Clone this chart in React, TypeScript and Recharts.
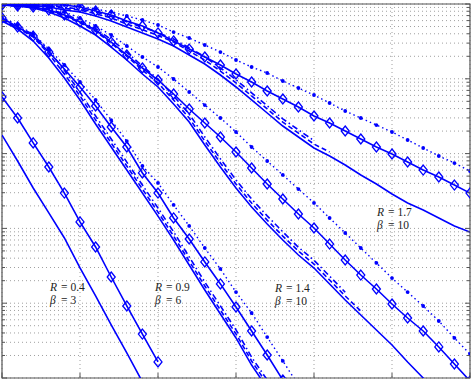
import { CartesianGrid, Line, LineChart, ReferenceArea, XAxis, YAxis } from "recharts";

const BLUE = "#0000ff";
const FRAME = "#555555";

// x positions (every 0.2 between 0 and 6)
const X_VALUES = [
  0, 0.2, 0.4, 0.6, 0.8, 1.0, 1.2, 1.4, 1.6, 1.8, 2.0, 2.2, 2.4, 2.6, 2.8, 3.0,
  3.2, 3.4, 3.6, 3.8, 4.0, 4.2, 4.4, 4.6, 4.8, 5.0, 5.2, 5.4, 5.6, 5.8, 6.0
];
const X_TICKS = [0, 1, 2, 3, 4, 5, 6];
const Y_DECADES = [1e-5, 1e-4, 1e-3, 1e-2, 1e-1];
const Y_MANTISSA = [1, 2, 3, 4, 5, 6, 7, 8, 9];

// R = 0.4, beta = 3
const A_DIAMOND = [5.71e-2, 2.99e-2, 1.39e-2, 6.62e-3, 2.97e-3, 1.22e-3, 5.64e-4, 2.24e-4, 9.18e-5, 3.87e-5, 1.64e-5];
const A_SOLID = [1.77e-2, 7.96e-3, 3.47e-3, 1.61e-3, 7.45e-4, 2.96e-4, 1.25e-4, 5.12e-5, 2.16e-5, 8.9e-6];

// R = 0.9, beta = 6
const B_DIAMOND = [0.65, 0.493, 0.373, 0.228, 0.135, 0.0776, 0.0433, 0.0227, 0.01225, 5.51e-3, 2.97e-3, 1.38e-3, 7.21e-4, 3.56e-4, 1.81e-4, 8.89e-5, 4.25e-5, 2.03e-5, 9.4e-6];
const B_DOTTED = [0.67, 0.524, 0.397, 0.25, 0.153, 0.0906, 0.0521, 0.0281, 0.0147, 6.83e-3, 4.05e-3, 2.06e-3, 1.08e-3, 5.47e-4, 2.87e-4, 1.41e-4, 7.4e-5, 3.53e-5, 1.69e-5, 8.06e-6];
const B_SOLID = [0.593, 0.463, 0.32, 0.19, 0.1025, 0.0521, 0.0249, 0.01225, 6.03e-3, 2.97e-3, 1.46e-3, 7.0e-4, 3.24e-4, 1.5e-4, 7.17e-5, 3.43e-5, 1.49e-5, 7.35e-6];
const B_DASHED = [0.605, 0.48, 0.362, 0.215, 0.116, 0.059, 0.0282, 0.01385, 6.82e-3, 3.36e-3, 1.65e-3, 7.9e-4, 3.66e-4, 1.7e-4, 8.1e-5, 3.88e-5, 1.69e-5, 8.3e-6];
const B_DASHDOT = [0.62, 0.5, 0.39, 0.24, 0.13, 0.066, 0.0318, 0.0157, 7.7e-3, 3.8e-3, 1.87e-3, 9.0e-4, 4.15e-4, 1.92e-4, 9.2e-5, 4.4e-5, 1.9e-5, 9.4e-6];

// R = 1.4, beta = 10
const C_DIAMOND = [0.97, 0.94, 0.912, 0.831, 0.713, 0.574, 0.449, 0.31, 0.208, 0.1394, 0.0964, 0.0626, 0.0395, 0.02565, 0.01667, 0.0105, 6.42e-3, 3.92e-3, 2.47e-3, 1.558e-3, 1.012e-3, 6.18e-4, 3.78e-4, 2.38e-4, 1.548e-4, 9.76e-5, 6.34e-5, 4.25e-5, 2.6e-5, 1.54e-5, 9.12e-6];
const C_DOTTED = [0.97, 0.94, 0.94, 0.884, 0.782, 0.65, 0.508, 0.385, 0.2745, 0.1956, 0.1438, 0.0994, 0.0666, 0.0446, 0.0299, 0.01944, 0.01225, 7.96e-3, 5.18e-3, 3.36e-3, 2.19e-3, 1.377e-3, 8.68e-4, 5.47e-4, 3.45e-4, 2.17e-4, 1.41e-4, 9.18e-5, 5.78e-5, 3.43e-5, 2.09e-5];
const C_SOLID = [0.97, 0.94, 0.884, 0.782, 0.65, 0.508, 0.385, 0.266, 0.1784, 0.1159, 0.0777, 0.046, 0.02645, 0.01303, 6.62e-3, 3.47e-3, 1.932e-3, 1.145e-3, 7.0e-4, 4.41e-4, 2.95e-4, 1.806e-4, 1.104e-4, 6.95e-5, 4.38e-5, 2.76e-5, 1.637e-5, 1.0e-5, 6.11e-6];
const C_DASHED = [0.97, 0.94, 0.9, 0.81, 0.69, 0.56, 0.43, 0.3, 0.2, 0.131, 0.088, 0.052, 0.0299, 0.0147, 7.5e-3, 3.92e-3, 2.18e-3, 1.29e-3, 7.9e-4, 4.98e-4, 3.33e-4, 2.04e-4, 1.25e-4, 7.85e-5];
const C_DASHDOT = [0.97, 0.95, 0.92, 0.85, 0.74, 0.6, 0.47, 0.335, 0.226, 0.148, 0.099, 0.059, 0.0338, 0.0167, 8.5e-3, 4.44e-3, 2.47e-3, 1.47e-3, 9.0e-4, 5.6e-4, 3.75e-4, 2.3e-4, 1.4e-4];

// R = 1.7, beta = 10
const D_DIAMOND = [0.99, 0.99, 0.97, 0.97, 0.97, 0.912, 0.806, 0.713, 0.593, 0.508, 0.41, 0.32, 0.25, 0.1956, 0.153, 0.1159, 0.0906, 0.0687, 0.0537, 0.042, 0.0318, 0.02565, 0.02005, 0.01567, 0.01225, 9.88e-3, 7.72e-3, 6.03e-3, 4.87e-3, 3.8e-3, 2.97e-3];
const D_DOTTED = [0.99, 0.99, 0.99, 0.97, 0.97, 0.94, 0.857, 0.782, 0.691, 0.611, 0.524, 0.422, 0.351, 0.283, 0.228, 0.1784, 0.1438, 0.1196, 0.0935, 0.0753, 0.0607, 0.0475, 0.0371, 0.0299, 0.0241, 0.01944, 0.0152, 0.01188, 9.29e-3, 7.48e-3, 5.85e-3];
const D_SOLID = [0.97, 0.97, 0.94, 0.912, 0.831, 0.782, 0.691, 0.593, 0.493, 0.41, 0.34, 0.2745, 0.208, 0.1578, 0.1124, 0.0777, 0.0521, 0.0349, 0.02339, 0.01667, 0.01188, 9.29e-3, 7.04e-3, 5.18e-3, 3.92e-3, 2.88e-3, 2.19e-3, 1.762e-3, 1.377e-3, 1.077e-3, 8.95e-4];
const D_DASHED = [0.98, 0.98, 0.96, 0.94, 0.87, 0.83, 0.74, 0.65, 0.54, 0.455, 0.38, 0.31, 0.235, 0.178, 0.127, 0.088, 0.059, 0.0395, 0.0264, 0.0188, 0.0134, 0.0105];
const D_DASHDOT = [0.98, 0.98, 0.97, 0.95, 0.9, 0.86, 0.78, 0.68, 0.58, 0.49, 0.415, 0.34, 0.26, 0.197, 0.14, 0.097, 0.065, 0.0436, 0.0292, 0.0208, 0.0149];

const SERIES: { key: string; values: number[]; style: "solid" | "dashed" | "dashdot" | "dotted" | "diamond" }[] = [
  { key: "aSolid", values: A_SOLID, style: "solid" },
  { key: "aDiamond", values: A_DIAMOND, style: "diamond" },
  { key: "bSolid", values: B_SOLID, style: "solid" },
  { key: "bDashed", values: B_DASHED, style: "dashed" },
  { key: "bDashdot", values: B_DASHDOT, style: "dashdot" },
  { key: "bDiamond", values: B_DIAMOND, style: "diamond" },
  { key: "bDotted", values: B_DOTTED, style: "dotted" },
  { key: "cSolid", values: C_SOLID, style: "solid" },
  { key: "cDashed", values: C_DASHED, style: "dashed" },
  { key: "cDashdot", values: C_DASHDOT, style: "dashdot" },
  { key: "cDiamond", values: C_DIAMOND, style: "diamond" },
  { key: "cDotted", values: C_DOTTED, style: "dotted" },
  { key: "dSolid", values: D_SOLID, style: "solid" },
  { key: "dDashed", values: D_DASHED, style: "dashed" },
  { key: "dDashdot", values: D_DASHDOT, style: "dashdot" },
  { key: "dDiamond", values: D_DIAMOND, style: "diamond" },
  { key: "dDotted", values: D_DOTTED, style: "dotted" }
];

const LABELS = [
  { x: 50, y: 291, r: "0.4", b: "3" },
  { x: 155, y: 291, r: "0.9", b: "6" },
  { x: 275, y: 292, r: "1.4", b: "10" },
  { x: 377, y: 216, r: "1.7", b: "10" }
];

const Y_TICKS = [...Y_DECADES.flatMap((d) => Y_MANTISSA.map((m) => m * d)), 1];

const rows = X_VALUES.map((x, i) => {
  const row: Record<string, number | undefined> = { x };
  SERIES.forEach((s) => {
    row[s.key] = s.values[i];
  });
  return row;
});

function isDecade(v: number) {
  const l = Math.log10(v);
  return Math.abs(l - Math.round(l)) < 1e-6;
}

function yTick(side: "left" | "right") {
  return (props: any) => {
    const { x, y, payload } = props;
    const len = isDecade(payload.value) ? 5 : 3;
    const dir = side === "left" ? 1 : -1;
    return <line x1={x} x2={x + dir * len} y1={y} y2={y} stroke={FRAME} strokeWidth={1} />;
  };
}

function xTick(side: "top" | "bottom") {
  return (props: any) => {
    const { x, y } = props;
    const dir = side === "top" ? 1 : -1;
    return <line x1={x} x2={x} y1={y} y2={y + dir * 5} stroke={FRAME} strokeWidth={1} />;
  };
}

function DiamondDot(props: any) {
  const { cx, cy, value } = props;
  if (value == null || !Number.isFinite(cx) || !Number.isFinite(cy)) return <g />;
  return (
    <path
      d={`M${cx},${cy - 5}L${cx + 4},${cy}L${cx},${cy + 5}L${cx - 4},${cy}Z`}
      fill="none"
      stroke={BLUE}
      strokeWidth={1.3}
    />
  );
}

function PointDot(props: any) {
  const { cx, cy, value } = props;
  if (value == null || !Number.isFinite(cx) || !Number.isFinite(cy)) return <g />;
  return <circle cx={cx} cy={cy} r={1.9} fill={BLUE} />;
}

const DASH: Record<string, string | undefined> = {
  solid: undefined,
  diamond: undefined,
  dashed: "5 3",
  dashdot: "6 3 1.5 3",
  dotted: "1.5 3"
};

const LABEL_FONT = { fontFamily: "Liberation Serif", fontSize: 11.5, fill: "#222" };

export default function App() {
  return (
    <div style={{ position: "fixed", left: 0, top: 0, width: 474, height: 379, background: "#fff", overflow: "hidden" }}>
      <LineChart width={474} height={379} data={rows} margin={{ top: 4, right: 3, bottom: 0, left: 1 }}>
        <CartesianGrid stroke="#a0a0a0" strokeDasharray="1 3" />
        <XAxis
          dataKey="x"
          type="number"
          domain={[0, 6]}
          ticks={X_TICKS}
          interval={0}
          allowDataOverflow
          height={1}
          tickSize={0}
          tickMargin={0}
          tickLine={false}
          tick={xTick("bottom")}
          axisLine={false}
        />
        <XAxis
          xAxisId="top"
          orientation="top"
          dataKey="x"
          type="number"
          domain={[0, 6]}
          ticks={X_TICKS}
          interval={0}
          allowDataOverflow
          height={0}
          tickSize={0}
          tickMargin={0}
          tickLine={false}
          tick={xTick("top")}
          axisLine={false}
        />
        <YAxis
          scale="log"
          type="number"
          domain={[1e-5, 1]}
          ticks={Y_TICKS}
          interval={0}
          allowDataOverflow
          width={1}
          tickSize={0}
          tickMargin={0}
          tickLine={false}
          tick={yTick("left")}
          axisLine={false}
        />
        <YAxis
          yAxisId="right"
          orientation="right"
          scale="log"
          type="number"
          domain={[1e-5, 1]}
          ticks={Y_TICKS}
          interval={0}
          allowDataOverflow
          width={1}
          tickSize={0}
          tickMargin={0}
          tickLine={false}
          tick={yTick("right")}
          axisLine={false}
        />
        <ReferenceArea x1={0} x2={6} y1={1e-5} y2={1} fill="none" stroke={FRAME} strokeWidth={1.2} ifOverflow="visible" />
        {SERIES.map((s) => (
          <Line
            key={s.key}
            dataKey={s.key}
            type="linear"
            stroke={BLUE}
            strokeWidth={s.style === "dotted" ? 1.4 : 1.6}
            strokeDasharray={DASH[s.style]}
            dot={s.style === "diamond" ? DiamondDot : s.style === "dotted" ? PointDot : false}
            activeDot={false}
            isAnimationActive={false}
          />
        ))}
      </LineChart>
      <svg width={474} height={379} style={{ position: "absolute", left: 0, top: 0, pointerEvents: "none" }}>
        {LABELS.map((l) => (
          <g key={l.r + l.x}>
            <text x={l.x} y={l.y} fontStyle="italic" {...LABEL_FONT}>R</text>
            <text x={l.x + 11} y={l.y} {...LABEL_FONT}>= {l.r}</text>
            <text x={l.x} y={l.y + 13} fontStyle="italic" {...LABEL_FONT}>β</text>
            <text x={l.x + 11} y={l.y + 13} {...LABEL_FONT}>= {l.b}</text>
          </g>
        ))}
      </svg>
    </div>
  );
}
